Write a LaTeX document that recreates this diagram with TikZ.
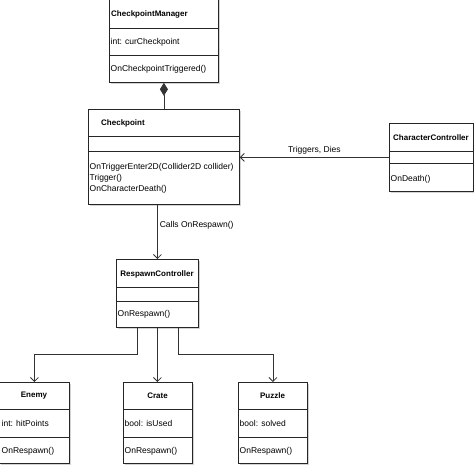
\documentclass[tikz,border=0pt]{standalone}
\usepackage{fontspec}
\setmainfont{Liberation Sans}
\usetikzlibrary{arrows.meta,shadows,calc}
\tikzset{
  box/.style={draw=black!85, line width=0.8pt, fill=white, rectangle, inner sep=0pt, anchor=north west,
    drop shadow={shadow xshift=1.5pt, shadow yshift=-1.5pt, opacity=0.35, fill=gray}},
  divider/.style={draw=black!85, line width=0.8pt},
  ttl/.style={font=\fontsize{8}{9.6}\selectfont\bfseries, inner sep=0pt},
  txt/.style={font=\fontsize{8.5}{11}\selectfont, inner sep=0pt, anchor=west},
  conn/.style={draw=black!80, line width=0.8pt},
  arr/.style={conn, -{Straight Barb[length=4pt,width=8pt,line width=0.8pt]}},
}
\begin{document}
\begin{tikzpicture}[x=1pt,y=-1pt]
\useasboundingbox (0,0) rectangle (474,467);
% CheckpointManager
\node[box, minimum width=109pt, minimum height=87pt] (cm) at (109,-5) {};
\draw[divider] (109,28) -- (218,28);
\draw[divider] (109,55) -- (218,55);
\node[ttl, anchor=west] (cmt) at (111,14) {CheckpointManager};
\node[txt] (cma) at (110.5,42) {int: curCheckpoint};
\node[txt] (cmm) at (110.5,69) {OnCheckpointTriggered()};
% Checkpoint
\node[box, minimum width=151pt, minimum height=95pt] (cp) at (88,109) {};
\draw[divider] (88,136) -- (239,136);
\draw[divider] (88,151) -- (239,151);
\node[ttl, anchor=west] (cpt) at (101,123) {Checkpoint};
\node[txt] (cpm1) at (89.5,167) {OnTriggerEnter2D(Collider2D collider)};
\node[txt] (cpm2) at (89.5,178) {Trigger()};
\node[txt] (cpm3) at (89.5,189) {OnCharacterDeath()};
% CharacterController
\node[box, minimum width=84pt, minimum height=68pt] (cc) at (389,123) {};
\draw[divider] (389,151) -- (473,151);
\draw[divider] (389,163) -- (473,163);
\node[ttl] (cct) at (431,138) {CharacterController};
\node[txt] (ccm) at (390.5,179) {OnDeath()};
% RespawnController
\node[box, minimum width=82pt, minimum height=68pt] (rc) at (116,259) {};
\draw[divider] (116,287) -- (198,287);
\draw[divider] (116,301) -- (198,301);
\node[ttl] (rct) at (157,274) {RespawnController};
\node[txt] (rcm) at (117.5,314) {OnRespawn()};
% Enemy
\node[box, minimum width=70pt, minimum height=81pt] (en) at (-1,382) {};
\draw[divider] (-1,409) -- (69,409);
\draw[divider] (-1,437) -- (69,437);
\node[ttl] (ent) at (34,396) {Enemy};
\node[txt] (ena) at (1.5,423) {int: hitPoints};
\node[txt] (enm) at (1.5,451) {OnRespawn()};
% Crate
\node[box, minimum width=69pt, minimum height=81pt] (cr) at (123,382) {};
\draw[divider] (123,409) -- (192,409);
\draw[divider] (123,437) -- (192,437);
\node[ttl] (crt) at (157.5,396) {Crate};
\node[txt] (cra) at (124.5,423) {bool: isUsed};
\node[txt] (crm) at (124.5,451) {OnRespawn()};
% Puzzle
\node[box, minimum width=69pt, minimum height=81pt] (pz) at (238,382) {};
\draw[divider] (238,409) -- (307,409);
\draw[divider] (238,437) -- (307,437);
\node[ttl] (pzt) at (272.5,396) {Puzzle};
\node[txt] (pza) at (239.5,423) {bool: solved};
\node[txt] (pzm) at (239.5,451) {OnRespawn()};
% connectors
\draw[conn, {Diamond[length=13pt,width=8pt]}-] (cm.south) -- (cp.north);
\draw[arr] (cc.west) -- (cc.west -| cp.east) node[pos=0.5, above=3pt, font=\fontsize{8.5}{11}\selectfont, inner sep=0pt] (lt) {Triggers, Dies};
\draw[arr] (rc.north |- cp.south) -- (rc.north) node[pos=0.37, right=2pt, font=\fontsize{8.5}{11}\selectfont, inner sep=0pt] (lc) {Calls OnRespawn()};
\draw[arr] ($(rc.south)+(-20,0)$) -- ++(0,27) -| (en.north);
\draw[arr] (rc.south) -- (rc.south |- cr.north);
\draw[arr] ($(rc.south)+(21,0)$) -- ++(0,27) -| (pz.north);
\end{tikzpicture}
\end{document}
